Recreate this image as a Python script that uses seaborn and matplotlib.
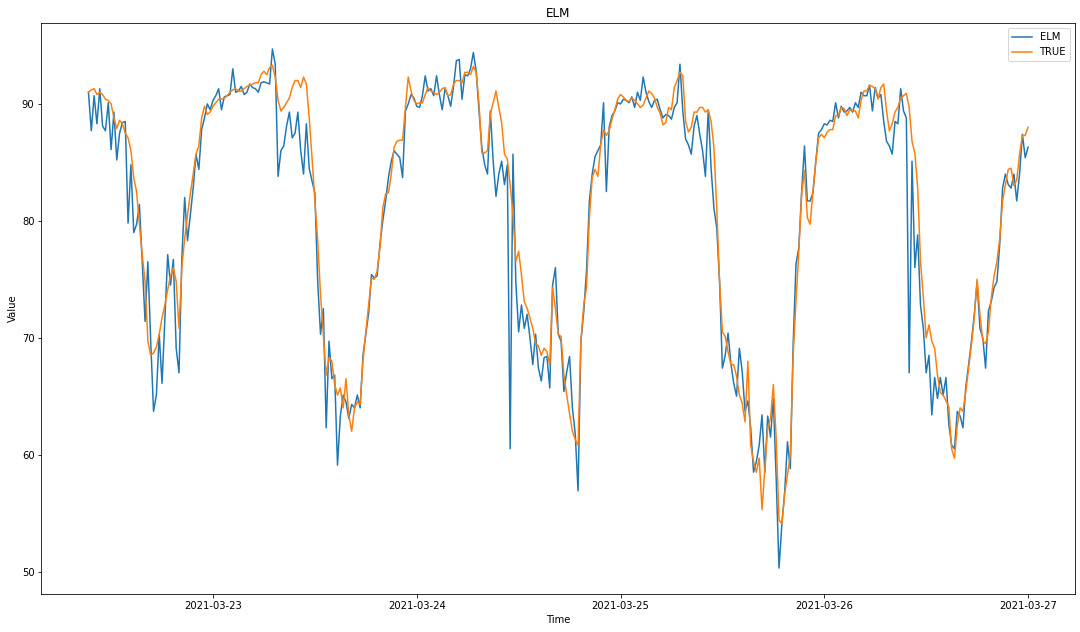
import pandas as pd
import matplotlib
matplotlib.use('Agg')
import matplotlib.pyplot as plt
import matplotlib.dates as mdates
import seaborn as sns

# 20-minute readings, 2021-03-22 09:20 -> 2021-03-27 00:00
start_time = '2021-03-22 09:20'
step = '20min'

elm_values = [
    91.0, 87.7, 90.7, 88.3, 91.3, 88.1, 87.7, 90.1, 86.1, 89.3,
    85.2, 87.5, 88.4, 88.5, 79.8, 84.8, 79.0, 79.7, 81.4, 76.5,
    71.4, 76.5, 69.7, 63.7, 65.1, 70.3, 66.1, 71.7, 77.1, 74.5,
    76.7, 69.1, 67.0, 76.8, 82.0, 78.3, 80.5, 82.8, 85.7, 84.4,
    87.8, 88.8, 90.0, 89.5, 90.3, 90.7, 91.3, 89.5, 90.6, 90.7,
    90.8, 93.0, 91.0, 91.1, 91.5, 90.8,
    91.0, 91.7, 91.4, 91.3, 91.0, 91.8, 91.9, 91.8, 91.7, 94.7,
    93.4, 83.8, 86.0, 86.4, 88.1, 89.3, 87.1, 87.5, 89.3, 86.0,
    84.0, 88.3, 84.5, 83.4, 82.4, 74.8, 70.3, 72.5, 62.3, 69.7,
    66.5, 66.8, 59.1, 63.3, 65.1, 64.5, 63.1, 64.3, 64.0, 65.1,
    64.0, 68.5, 70.3, 72.1, 75.4, 75.1, 75.3, 78.0, 80.0, 81.7,
    83.7, 85.1, 86.0, 85.7, 85.4, 83.7, 89.4,
    90.0, 90.8, 90.5, 89.8, 89.7, 90.7, 92.4, 91.1, 91.3, 90.7,
    92.4, 90.8, 89.5, 91.3, 90.7, 89.8, 91.5, 93.7, 93.8, 90.4,
    92.5, 92.4, 93.0, 94.4, 92.8, 89.4, 86.3, 84.8, 84.0, 89.4,
    85.1, 82.1, 84.0, 85.1, 83.1, 84.8, 60.5, 85.7, 74.8, 70.5,
    72.8, 70.8, 72.0, 70.0, 67.7, 70.3, 67.4, 66.3, 68.3, 68.4,
    65.7, 74.5, 76.0, 70.3, 69.7, 65.4, 67.1,
    68.4, 64.0, 61.8, 56.9, 69.7, 72.2, 75.8, 81.7, 84.0, 85.5,
    86.0, 86.5, 90.1, 82.5, 88.0, 89.0, 89.4, 90.1, 90.0, 90.4,
    90.3, 90.1, 90.6, 89.7, 91.0, 90.3, 92.3, 91.0, 90.2, 89.7,
    90.3, 90.4, 89.5, 88.8, 89.1, 89.0, 88.7, 89.7, 90.1, 93.4,
    89.4, 87.0, 86.5, 85.7, 88.1, 89.0, 87.4, 86.0, 83.8, 89.5,
    84.5, 81.1, 79.4, 74.8, 67.4, 68.5,
    70.4, 67.8, 66.1, 65.0, 69.1, 67.1, 63.7, 64.6, 62.3, 58.5,
    59.4, 60.8, 63.4, 58.5, 63.3, 61.5, 64.8, 58.0, 50.3, 54.0,
    56.8, 61.1, 58.8, 69.4, 76.3, 77.7, 82.5, 86.4, 81.7, 81.7,
    82.4, 85.1, 87.5, 87.8, 88.3, 88.2, 88.6, 88.5, 90.1, 88.8,
    89.8, 89.3, 89.4, 89.7, 89.3, 90.1, 89.7, 91.0, 90.7, 90.7,
    91.6, 89.4, 91.4, 90.5, 90.8, 88.5, 86.8,
    86.4, 85.7, 88.5, 88.3, 91.3, 89.4, 88.8, 67.0, 85.1, 76.0,
    78.8, 72.8, 70.8, 67.0, 68.5, 63.4, 66.6, 64.8, 66.6, 65.1,
    66.6, 62.6, 60.8, 60.5, 63.7, 63.3, 62.3, 65.8, 67.7, 69.7,
    72.0, 74.8, 70.8, 70.0, 67.4, 72.3, 73.1, 74.3, 74.8, 78.0,
    82.8, 84.0, 83.1, 82.8, 84.0, 81.7, 84.0, 87.4, 85.4, 86.3,
]

true_values = [
    91.0, 91.2, 91.3, 90.8, 91.0, 90.8, 90.4, 90.3, 90.0, 88.8,
    87.9, 88.6, 88.3, 87.5, 87.1, 86.0, 83.7, 82.5, 79.7, 77.1,
    74.8, 69.7, 68.5, 68.7, 69.2, 70.3, 71.7, 72.8, 74.1, 75.3,
    76.0, 74.8, 70.8, 76.0, 78.5, 80.5, 82.3, 84.0, 85.7, 86.4,
    88.8, 89.8, 89.1, 89.3, 89.8, 90.1, 90.4, 90.4, 90.5, 90.7,
    91.0, 91.2, 91.3, 91.1, 91.1, 91.3,
    91.5, 91.6, 91.7, 91.8, 91.8, 92.5, 92.8, 92.5, 93.1, 93.3,
    92.3, 90.3, 89.4, 89.7, 90.1, 90.5, 91.4, 92.0, 92.0, 91.4,
    92.3, 91.7, 88.8, 85.4, 81.7, 78.3, 73.7, 70.3, 66.8, 68.3,
    68.0, 66.0, 65.1, 65.7, 64.0, 66.5, 63.4, 62.0, 64.0, 64.5,
    64.3, 68.0, 70.5, 72.8, 75.1, 75.0, 75.7, 77.7, 81.1, 82.3,
    82.4, 84.0, 86.3, 86.8, 86.9, 86.9, 89.7,
    92.3, 91.1, 90.3, 90.0, 90.1, 90.1, 90.8, 91.4, 91.1, 91.0,
    90.8, 91.0, 91.3, 91.4, 90.7, 90.8, 91.7, 92.0, 92.0, 91.8,
    92.7, 92.7, 92.5, 93.2, 92.7, 90.0, 85.8, 85.8, 86.0, 89.1,
    90.1, 91.1, 89.7, 88.4, 85.7, 85.3, 83.1, 80.5, 76.5, 77.4,
    75.4, 73.1, 72.5, 71.7, 70.8, 69.5, 69.3, 68.5, 69.1, 68.8,
    67.7, 74.3, 72.5, 70.3, 70.1, 66.8, 65.1,
    63.5, 62.0, 61.3, 60.8, 69.7, 72.8, 74.3, 80.3, 83.7, 84.4,
    83.8, 86.5, 87.8, 87.3, 87.7, 88.7, 89.5, 90.4, 90.8, 90.6,
    90.3, 90.2, 90.5, 90.3, 90.0, 89.7, 89.9, 90.5, 91.1, 90.9,
    90.5, 89.7, 89.2, 88.2, 88.4, 89.7, 89.5, 91.4, 92.0, 92.7,
    92.4, 88.5, 87.6, 88.0, 89.3, 89.3, 89.7, 89.7, 89.3, 89.5,
    88.5, 86.3, 81.1, 74.8, 70.5, 70.1,
    68.8, 67.7, 67.7, 66.7, 65.1, 64.4, 62.8, 68.0, 60.8, 59.4,
    58.5, 59.7, 55.3, 58.8, 62.3, 63.1, 66.0, 61.4, 54.4, 54.1,
    56.6, 58.3, 60.0, 68.5, 73.1, 77.4, 82.3, 84.3, 80.3, 79.7,
    82.5, 85.0, 87.1, 87.4, 87.1, 87.6, 87.8, 87.8, 89.0, 89.0,
    89.7, 89.6, 89.0, 89.5, 89.4, 89.4, 88.8, 90.3, 91.1, 91.1,
    91.6, 91.5, 91.3, 90.4, 91.4, 91.7, 89.4,
    87.7, 88.3, 89.3, 89.7, 90.5, 90.7, 90.9, 89.7, 86.8, 85.8,
    82.8, 76.5, 73.5, 70.0, 71.1, 69.7, 69.1, 66.8, 65.3, 65.1,
    64.6, 64.1, 60.5, 59.7, 62.5, 64.0, 63.7, 65.4, 67.4, 69.4,
    71.7, 75.0, 72.0, 69.7, 69.5, 70.5, 73.4, 75.3, 76.5, 78.5,
    81.7, 83.1, 84.4, 84.5, 83.0, 83.5, 85.7, 87.3, 87.3, 88.0,
]

df = pd.DataFrame({
    'Time': pd.date_range(start_time, periods=len(true_values), freq=step),
    'ELM': elm_values,
    'TRUE': true_values,
})

fig, ax = plt.subplots(figsize=(15, 632 / 72), dpi=72)

sns.lineplot(data=df, x='Time', y='ELM', label='ELM', color='tab:blue', ax=ax)
sns.lineplot(data=df, x='Time', y='TRUE', label='TRUE', color='tab:orange', ax=ax)

ax.xaxis.set_major_locator(mdates.DayLocator())
ax.xaxis.set_major_formatter(mdates.DateFormatter('%Y-%m-%d'))
ax.set_xlabel('Time')
ax.set_ylabel('Value')
ax.set_title('ELM')
ax.legend(loc='upper right')

plt.subplots_adjust(left=0.0384, right=0.9954, top=0.9636, bottom=0.0601)
plt.savefig('out.png', dpi=72)
plt.close()
